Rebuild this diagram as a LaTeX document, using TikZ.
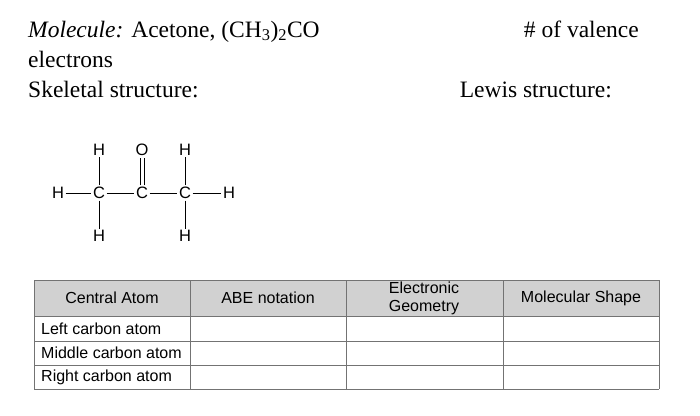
\documentclass[tikz,border=0pt]{standalone}
\usepackage{fontspec}
\setmainfont{Liberation Serif}
\newfontfamily\arial{Liberation Sans}
\begin{document}
\begin{tikzpicture}[x=1pt,y=-1pt,
  big/.style={font=\fontsize{23.5}{26}\selectfont, inner sep=0pt, anchor=base west},
  atom/.style={font=\arial\fontsize{16.5}{18}\selectfont, inner sep=1.5pt},
  bond/.style={line width=0.8pt},
  cell/.style={font=\arial\fontsize{16}{17}\selectfont, inner sep=0pt, align=center},
  grid/.style={draw=black!55, line width=0.9pt}]
\useasboundingbox (0,0) rectangle (700,415);
\node[big] (t1) at (28,37) {\textit{Molecule:} Acetone, (CH\textsubscript{3})\textsubscript{2}CO};
\node[big, anchor=base east] (t2) at (639,37) {\# of valence};
\node[big] (t3) at (28,67) {electrons};
\node[big] (t4) at (28,97) {Skeletal structure:};
\node[big, anchor=base east] (t5) at (612,97) {Lewis structure:};
% molecule
\node[atom] (c1) at (99,193) {C};
\node[atom] (c2) at (142,193) {C};
\node[atom] (c3) at (185,193) {C};
\node[atom] (hl) at (58,193) {H};
\node[atom] (hr) at (229,193) {H};
\node[atom] (h1t) at (99,150) {H};
\node[atom] (h1b) at (99,236) {H};
\node[atom] (o) at (142,150) {O};
\node[atom] (h3t) at (185,150) {H};
\node[atom] (h3b) at (185,236) {H};
\draw[bond] (hl) -- (c1); \draw[bond] (c1) -- (c2); \draw[bond] (c2) -- (c3); \draw[bond] (c3) -- (hr);
\draw[bond] (c1) -- (h1t); \draw[bond] (c1) -- (h1b);
\draw[bond] (c3) -- (h3t); \draw[bond] (c3) -- (h3b);
\draw[bond] ([xshift=-2pt]c2.north) -- ([xshift=-2pt]o.south);
\draw[bond] ([xshift=2pt]c2.north) -- ([xshift=2pt]o.south);
% table
\fill[black!18] (34,280) rectangle (659,316);
\foreach \y in {280,316,341,365,389} \draw[grid] (34,\y) -- (659,\y);
\foreach \x in {34,190,346,503,659} \draw[grid] (\x,280) -- (\x,389);
\node[cell] (h1) at (112,298) {Central Atom};
\node[cell] (h2) at (268,298) {ABE notation};
\node[cell] (h3) at (424,298) {Electronic\\[1pt]Geometry};
\node[cell] (h4) at (581,298) {Molecular Shape};
\node[cell, anchor=west] (r1) at (41,328.5) {Left carbon atom};
\node[cell, anchor=west] (r2) at (41,353) {Middle carbon atom};
\node[cell, anchor=west] (r3) at (41,377) {Right carbon atom};
\end{tikzpicture}
\end{document}
